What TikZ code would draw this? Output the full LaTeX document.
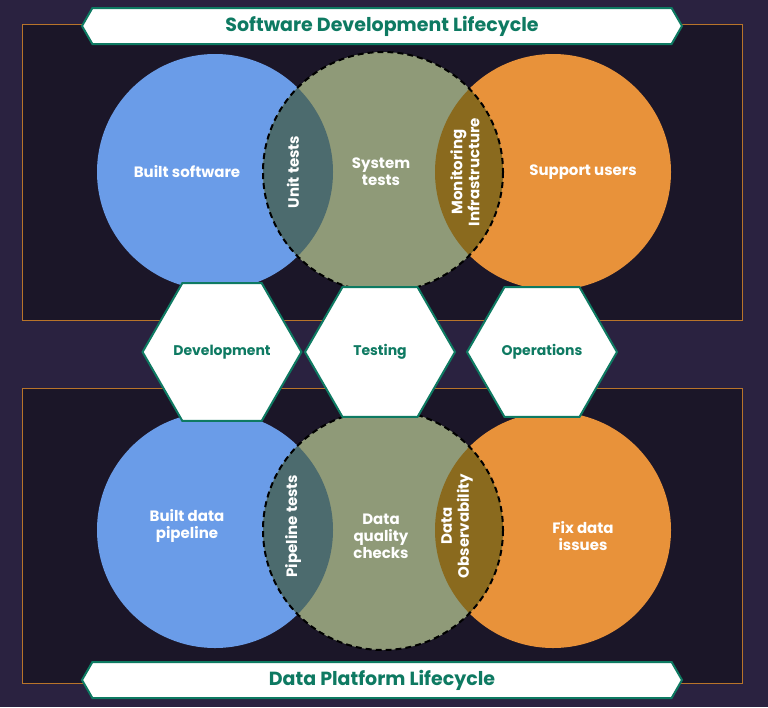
\documentclass[tikz,border=0pt]{standalone}
\usepackage{fontspec}
\setmainfont{Poppins}
\usetikzlibrary{shapes.geometric, shapes.symbols, positioning}
\definecolor{bgout}{HTML}{2A2240}
\definecolor{bgin}{HTML}{1B1628}
\definecolor{frameor}{HTML}{B8742A}
\definecolor{devblue}{HTML}{6A9CE8}
\definecolor{testgray}{HTML}{8F9A78}
\definecolor{opsorange}{HTML}{E8923A}
\definecolor{lapteal}{HTML}{4C6B6E}
\definecolor{lapbrown}{HTML}{8A6A1E}
\definecolor{hexteal}{HTML}{0E7A62}
\tikzset{
  panel/.style = {fill=bgin, draw=frameor, line width=0.6pt},
  lbl/.style = {text=white, font=\bfseries\fontsize{15}{17}\selectfont, align=center},
  hexa/.style = {regular polygon, regular polygon sides=6, minimum size=150pt, fill=white, draw=hexteal, line width=2pt, inner sep=0pt, text=hexteal, font=\bfseries\fontsize{14}{16}\selectfont},
  banner/.style = {signal, signal to=east and west, signal pointer angle=120, fill=white, draw=hexteal, line width=2pt, minimum width=600pt, minimum height=36pt, text=hexteal, font=\bfseries\fontsize{19}{22}\selectfont}
}
\begin{document}
\begin{tikzpicture}[x=1pt, y=-1pt]
  \fill[bgout] (0,0) rectangle (768,707);
  \useasboundingbox (0,0) rectangle (768,707);
  \draw[panel] (22,24) rectangle (742,320);
  \draw[panel] (22,388) rectangle (742,683);

  % two rows of circles
  \foreach \yy in {172,530} {
    \fill[devblue] (215,\yy) circle (118);
    \fill[opsorange] (553,\yy) circle (118);
    \fill[testgray] (383,\yy) circle (120);
    \begin{scope}
      \clip (383,\yy) circle (120);
      \fill[lapteal] (215,\yy) circle (118);
      \fill[lapbrown] (553,\yy) circle (118);
    \end{scope}
    \draw[black, line width=2pt, dash pattern=on 6pt off 4pt] (383,\yy) circle (120);
  }

  \node (built) [lbl] at (187,172) {Built software};
  \node (unit) [lbl, rotate=90] at (293,172) {Unit tests};
  \node (sys) [lbl] at (381,172) {System\\tests};
  \node (mon) [lbl, rotate=90] at (465,172) {Monitoring\\Infrastructure};
  \node (supp) [lbl] at (583,172) {Support users};

  \node (pipe) [lbl] at (187,526) {Built data\\pipeline};
  \node (ptest) [lbl, rotate=90] at (293,526) {Pipeline tests};
  \node (dq) [lbl] at (381,536) {Data\\quality\\checks};
  \node (obs) [lbl, rotate=90] at (457,526) {Data\\Observability};
  \node (fix) [lbl] at (583,536) {Fix data\\issues};

  \node (dev) [hexa] at (222,352) {Development};
  \node (test) [hexa] at (380,352) {Testing};
  \node (ops) [hexa] at (542,352) {Operations};

  \node (sdlc) [banner] at (382,26) {Software Development Lifecycle};
  \node (dplc) [banner] at (382,680) {Data Platform Lifecycle};
\end{tikzpicture}
\end{document}
